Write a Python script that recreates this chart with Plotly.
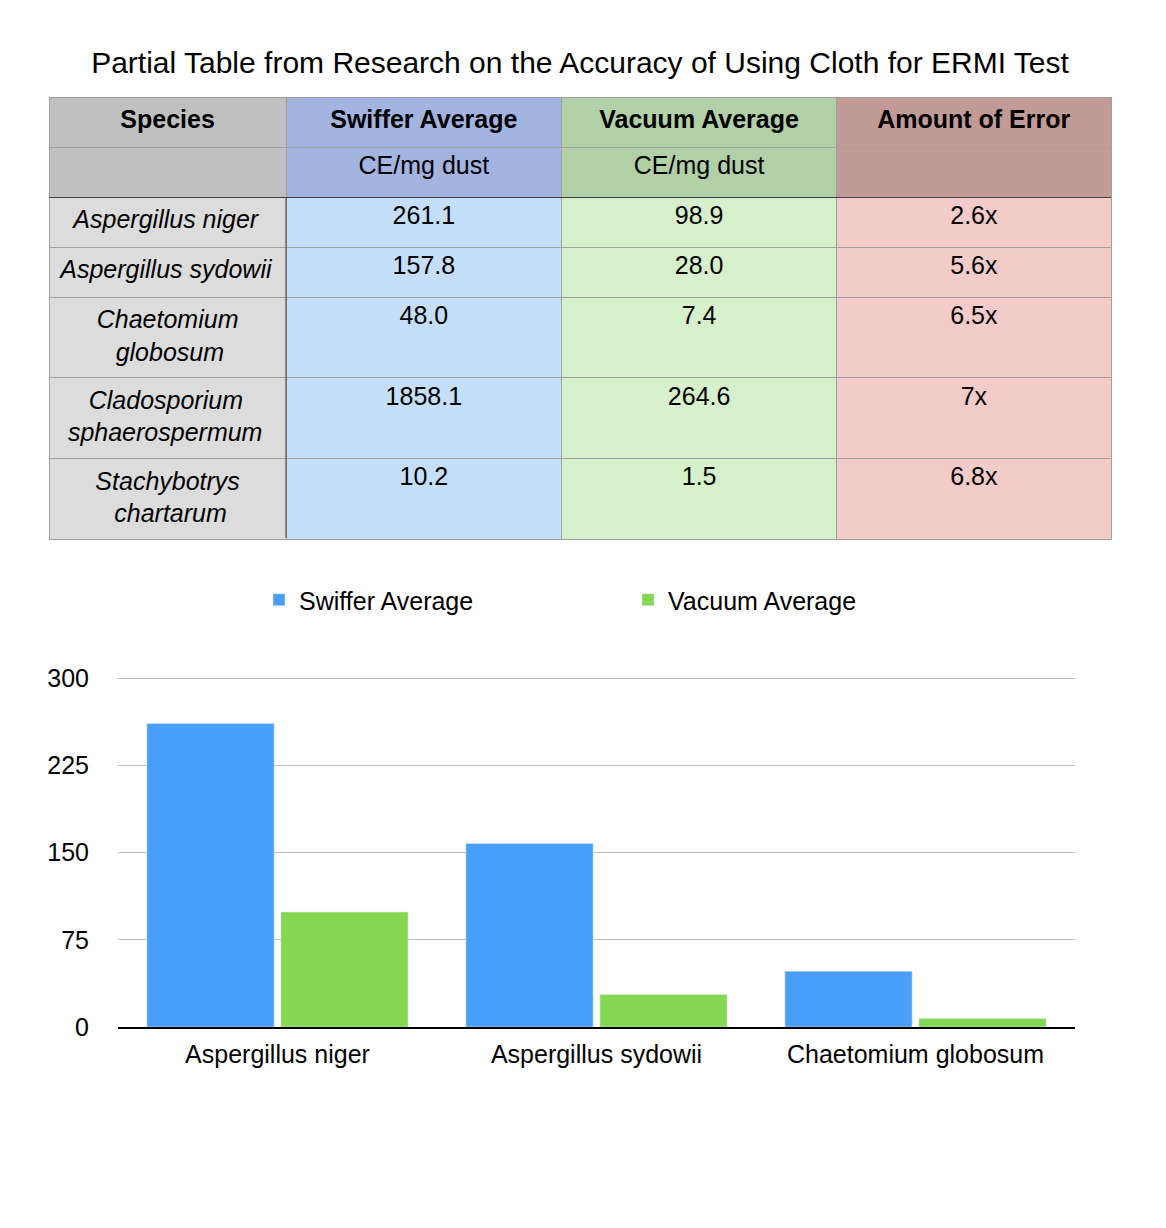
import plotly.graph_objects as go

# page has an 8px body margin, so the figure is sized to fit the window
W, H = 1150, 1212
OFF = 8


def px(x):
    return (x - OFF) / W


def py(y):
    return 1 - (y - OFF) / H


# table data
header = ["Species", "Swiffer Average", "Vacuum Average", "Amount of Error"]
units = ["", "CE/mg dust", "CE/mg dust", ""]
species = ["Aspergillus niger", "Aspergillus sydowii", "Chaetomium<br>globosum",
           "Cladosporium<br>sphaerospermum", "Stachybotrys<br>chartarum"]
swiffer_txt = ["261.1", "157.8", "48.0", "1858.1", "10.2"]
vacuum_txt = ["98.9", "28.0", "7.4", "264.6", "1.5"]
error_txt = ["2.6x", "5.6x", "6.5x", "7x", "6.8x"]

# chart data (first three species only)
chart_cats = ["Aspergillus niger", "Aspergillus sydowii", "Chaetomium globosum"]
swiffer_avg = [261.1, 157.8, 48.0]
vacuum_avg = [98.9, 28.0, 7.4]
yticks = [0, 75, 150, 225, 300]

head_fill = ["#bfc0bf", "#a4b4e0", "#b1d0a8", "#c29b96"]
body_fill = ["#dcdcdc", "#c5dffb", "#d7f0cc", "#f3ccc9"]
FONT = "Liberation Sans"

# plotly left-aligns the lines of a wrapped cell; indent the shorter line so
# each line looks centred like the original
NB, THIN = "\u00a0", "\u2009"
line_indent = {"globosum": NB * 2 + THIN, "Cladosporium": NB * 3,
               "chartarum": NB * 2 + THIN}


def species_cell(s):
    lines = ["<i>%s%s</i>" % (line_indent.get(part, ""), part) for part in s.split("<br>")]
    txt = "<br>".join(lines)
    # two-line names get a little extra room at the bottom, like the original
    if len(lines) > 1:
        txt += "<sub>" + NB + "</sub>"
    return txt


n = len(species)
cells_vals = [
    [units[0]] + [species_cell(s) for s in species],
    [units[1]] + swiffer_txt,
    [units[2]] + vacuum_txt,
    [units[3]] + error_txt,
]
cells_fill = [[head_fill[i]] + [body_fill[i]] * n for i in range(4)]

fig = go.Figure()

fig.add_trace(go.Table(
    domain=dict(x=[px(49), px(1111)], y=[py(560), py(97)]),
    columnwidth=[237, 275, 275, 274],
    header=dict(values=["<b>%s</b>" % h for h in header],
                fill_color=head_fill, align="center", height=50,
                line=dict(color="#a0a0a0", width=1),
                font=dict(family=FONT, size=25, color="black")),
    cells=dict(values=cells_vals, fill_color=cells_fill, align="center", height=50,
               line=dict(color="#a0a0a0", width=1),
               font=dict(family=FONT, size=25, color="black")),
))

fig.add_trace(go.Bar(x=chart_cats, y=swiffer_avg, name="Swiffer Average",
                     marker_color="#499ff7"))
fig.add_trace(go.Bar(x=chart_cats, y=vacuum_avg, name="Vacuum Average",
                     marker_color="#84d653"))

# darker rules under the units row and right of the species column
rule = dict(color="#404040", width=1)
fig.add_shape(type="line", xref="paper", yref="paper",
              x0=px(49), x1=px(1111), y0=py(197.5), y1=py(197.5), line=rule)
fig.add_shape(type="line", xref="paper", yref="paper",
              x0=px(286), x1=px(286), y0=py(197.5), y1=py(538), line=rule)

fig.update_layout(
    width=W, height=H,
    margin=dict(l=0, r=0, t=0, b=0, pad=0, autoexpand=False),
    paper_bgcolor="white", plot_bgcolor="white",
    font=dict(family=FONT, size=25, color="black"),
    title=dict(text="Partial Table from Research on the Accuracy of Using Cloth for ERMI Test",
               x=px(580), xanchor="center", y=py(62), yanchor="middle",
               font=dict(family=FONT, size=30, color="black")),
    barmode="group", bargap=0.16, bargroupgap=0.05,
    legend=dict(orientation="h", x=px(259), xanchor="left", y=py(600), yanchor="middle",
                font=dict(size=25), entrywidth=324),
    xaxis=dict(domain=[px(118), px(1075)], anchor="y", showgrid=False, automargin=False,
               showline=True, linecolor="black", linewidth=2, ticks="",
               ticklabelstandoff=4),
    yaxis=dict(domain=[py(1027), py(677)], range=[0, 301], tickvals=yticks, automargin=False,
               showgrid=True, gridcolor="#c0c0c0", gridwidth=1, zeroline=False,
               ticks="", ticklabelstandoff=28),
)

fig.write_html("out.html")
